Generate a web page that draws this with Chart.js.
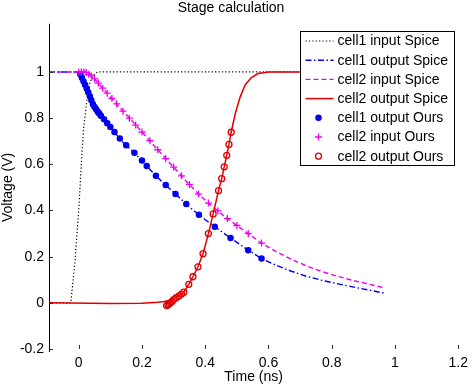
<!DOCTYPE html>
<html>
<head>
<meta charset="utf-8">
<script src="https://cdn.jsdelivr.net/npm/chart.js@4.4.1/dist/chart.umd.min.js"></script>
<style>
  html, body { margin: 0; padding: 0; background: #fff; }
  canvas { display: block; }
</style>
</head>
<body>
<canvas id="stageChart" width="474" height="388"></canvas>
<script>
// time (ns) / voltage (V)
const cell1InT = [-0.094, -0.025, -0.0125, 0, 0.008, 0.015, 0.025, 0.035, 0.045, 0.06, 0.965];
const cell1InV = [0, 0, 0.17, 0.40, 0.60, 0.75, 0.87, 0.95, 0.985, 1.0, 1.0];

const cell1OutT = [-0.094, 0, 0.008, 0.015, 0.022, 0.029, 0.037, 0.045, 0.06, 0.076, 0.095, 0.113, 0.14, 0.176, 0.21, 0.244,
    0.275, 0.306, 0.35, 0.40, 0.45, 0.50, 0.536, 0.578, 0.62, 0.67, 0.72, 0.77, 0.82, 0.87, 0.92, 0.965];
const cell1OutV = [1.0, 1.0, 0.985, 0.96, 0.935, 0.915, 0.885, 0.858, 0.825, 0.80, 0.77, 0.739, 0.695, 0.65, 0.60, 0.55,
    0.51, 0.471, 0.415, 0.36, 0.31, 0.262, 0.228, 0.192, 0.165, 0.138, 0.115, 0.097, 0.082, 0.068, 0.055, 0.042];

const cell2InT = [-0.094, 0, 0.02, 0.035, 0.05, 0.076, 0.095, 0.113, 0.14, 0.17, 0.21, 0.244, 0.275, 0.306, 0.34, 0.379,
    0.42, 0.46, 0.50, 0.536, 0.578, 0.62, 0.67, 0.72, 0.77, 0.82, 0.87, 0.92, 0.962];
const cell2InV = [1.0, 1.0, 1.003, 0.993, 0.97, 0.93, 0.90, 0.872, 0.83, 0.786, 0.725, 0.672, 0.625, 0.579, 0.527, 0.471,
    0.42, 0.375, 0.335, 0.30, 0.259, 0.225, 0.19, 0.16, 0.135, 0.114, 0.096, 0.08, 0.066];

const cell2OutT = [-0.094, 0.1, 0.2, 0.25, 0.27, 0.285, 0.30, 0.317, 0.332, 0.348, 0.361, 0.377, 0.393, 0.41, 0.425,
    0.442, 0.452, 0.46, 0.468, 0.475, 0.482, 0.495, 0.51, 0.526, 0.545, 0.567, 0.6, 0.965];
const cell2OutV = [0, -0.003, -0.002, 0.002, 0.006, 0.01, 0.018, 0.03, 0.046, 0.08, 0.113, 0.156, 0.213, 0.30, 0.385,
    0.486, 0.538, 0.589, 0.639, 0.686, 0.739, 0.82, 0.89, 0.944, 0.975, 0.993, 1.0, 1.0];

// "Ours" samples
const ours1OutT = [0.005, 0.01, 0.015, 0.02, 0.025, 0.03, 0.035, 0.04, 0.045, 0.05, 0.055, 0.06, 0.065, 0.07, 0.08, 0.09,
    0.1, 0.113, 0.13, 0.15, 0.176, 0.2, 0.215, 0.244, 0.275, 0.306, 0.34, 0.38, 0.43, 0.48, 0.536, 0.578];
const ours1OutV = [0.99, 0.975, 0.96, 0.945, 0.928, 0.912, 0.895, 0.878, 0.86, 0.848, 0.838, 0.828, 0.82, 0.81, 0.795, 0.778,
    0.762, 0.74, 0.712, 0.683, 0.65, 0.617, 0.593, 0.55, 0.51, 0.471, 0.428, 0.382, 0.33, 0.281, 0.228, 0.192];

const ours2InT = [0.0, 0.008, 0.016, 0.024, 0.032, 0.04, 0.05, 0.062, 0.076, 0.09, 0.105, 0.12, 0.14, 0.16, 0.18, 0.2,
    0.225, 0.25, 0.275, 0.3, 0.325, 0.35, 0.379, 0.41, 0.44, 0.47, 0.5, 0.536, 0.578];
const ours2InV = [1.0, 1.0, 1.0, 0.998, 0.99, 0.983, 0.97, 0.952, 0.93, 0.908, 0.885, 0.862, 0.83, 0.80, 0.77, 0.74,
    0.702, 0.663, 0.625, 0.588, 0.55, 0.513, 0.471, 0.432, 0.398, 0.365, 0.335, 0.30, 0.259];

const ours2OutT = [0.278, 0.282, 0.286, 0.29, 0.295, 0.30, 0.308, 0.317, 0.325, 0.332, 0.348, 0.361, 0.377, 0.393, 0.41,
    0.425, 0.442, 0.452, 0.46, 0.468, 0.475, 0.482];
const ours2OutV = [-0.012, -0.008, -0.004, 0.0, 0.006, 0.014, 0.022, 0.03, 0.038, 0.046, 0.08, 0.113, 0.156, 0.213, 0.30,
    0.385, 0.486, 0.538, 0.589, 0.639, 0.686, 0.739];

const legendLabels = ['cell1 input Spice', 'cell1 output Spice', 'cell2 input Spice', 'cell2 output Spice',
    'cell1 output Ours', 'cell2 input Ours', 'cell2 output Ours'];

const BLUE = '#0000ee', MAGENTA = '#ee00ee', RED = '#e00000';
const FONT = '"Liberation Sans", Arial, Helvetica, sans-serif';

const pts = (ts, vs) => ts.map((t, i) => ({ x: t, y: vs[i] }));

function lineSet(label, ts, vs, color, dash, width) {
    return {
        label, data: pts(ts, vs), showLine: true, borderColor: color, borderWidth: width,
        borderDash: dash, pointRadius: 0, pointHoverRadius: 0, fill: false, tension: 0
    };
}

function markSet(label, ts, vs, color, style, radius, filled) {
    return {
        label, data: pts(ts, vs), showLine: false, pointStyle: style, pointRadius: radius,
        pointBorderColor: color, pointBackgroundColor: filled ? color : 'rgba(0,0,0,0)',
        pointBorderWidth: 1.3, borderColor: color, backgroundColor: filled ? color : 'rgba(0,0,0,0)'
    };
}

const datasets = [
    lineSet(legendLabels[0], cell1InT, cell1InV, '#000', [1.2, 2.2], 1.2),
    lineSet(legendLabels[1], cell1OutT, cell1OutV, BLUE, [6, 2.5, 1.5, 2.5], 1.4),
    lineSet(legendLabels[2], cell2InT, cell2InV, MAGENTA, [5, 3], 1.4),
    lineSet(legendLabels[3], cell2OutT, cell2OutV, RED, [], 1.5),
    markSet(legendLabels[4], ours1OutT, ours1OutV, BLUE, 'circle', 2.6, true),
    markSet(legendLabels[5], ours2InT, ours2InV, MAGENTA, 'cross', 3.5, false),
    markSet(legendLabels[6], ours2OutT, ours2OutV, RED, 'circle', 3, false)
];
// later series painted on top, as in the original plot
datasets.forEach((d, i) => { d.order = datasets.length - i; });

// left axis line (a bit longer than the plot box) and small inward tick marks
const innerTicks = {
    id: 'innerTicks',
    afterDatasetsDraw(chart) {
        const { ctx, chartArea: a, scales: { x, y } } = chart;
        ctx.save();
        ctx.strokeStyle = '#000';
        ctx.lineWidth = 1;
        ctx.beginPath();
        ctx.moveTo(a.left + 0.5, a.top - 2);
        ctx.lineTo(a.left + 0.5, a.bottom + 3);
        ctx.stroke();
        ctx.strokeStyle = '#333';
        ctx.beginPath();
        x.ticks.forEach(t => {
            const px = Math.round(x.getPixelForValue(t.value)) + 0.5;
            ctx.moveTo(px, a.bottom);
            ctx.lineTo(px, a.bottom - 4);
        });
        y.ticks.forEach(t => {
            if (t.value > 1.1) return;
            const py = Math.round(y.getPixelForValue(t.value)) + 0.5;
            ctx.moveTo(a.left, py);
            ctx.lineTo(a.left + 4, py);
        });
        ctx.stroke();
        ctx.restore();
    }
};

// boxed legend inside the axes, like matlab
const boxLegend = {
    id: 'boxLegend',
    afterDraw(chart) {
        const ctx = chart.ctx;
        const left = 300.5, top = 31.5, w = 154, h = 134, rowH = 19.2;
        ctx.save();
        ctx.fillStyle = '#fff';
        ctx.fillRect(left, top, w, h);
        ctx.strokeStyle = '#000';
        ctx.lineWidth = 1;
        ctx.strokeRect(left, top, w, h);
        ctx.font = '14px ' + FONT;
        ctx.textBaseline = 'middle';
        chart.data.datasets.forEach((d, i) => {
            const cy = top + 9.5 + i * rowH;
            if (d.showLine) {
                ctx.strokeStyle = d.borderColor;
                ctx.lineWidth = d.borderWidth;
                ctx.setLineDash(d.borderDash);
                ctx.beginPath();
                ctx.moveTo(left + 5, cy);
                ctx.lineTo(left + 33, cy);
                ctx.stroke();
                ctx.setLineDash([]);
            } else {
                ctx.strokeStyle = d.pointBorderColor;
                ctx.fillStyle = d.pointBackgroundColor;
                ctx.lineWidth = d.pointBorderWidth;
                Chart.helpers.drawPoint(ctx, { pointStyle: d.pointStyle, radius: d.pointRadius, borderWidth: d.pointBorderWidth, rotation: 0 }, left + 18, cy);
            }
            ctx.fillStyle = '#000';
            ctx.fillText(d.label, left + 37, cy + 0.5);
        });
        ctx.restore();
    }
};

const fmt = v => (Math.abs(v - 1.2) < 1e-6 ? '' : String(+v.toFixed(1)));

new Chart(document.getElementById('stageChart'), {
    type: 'scatter',
    data: { datasets },
    options: {
        responsive: false,
        animation: false,
        devicePixelRatio: 1,
        layout: { padding: { left: 0, right: 12, top: 0, bottom: 0 } },
        plugins: {
            legend: { display: false },
            tooltip: { enabled: false },
            title: {
                display: true, text: 'Stage calculation', color: '#000',
                font: { family: FONT, size: 14, weight: 'normal' },
                padding: { top: 0, bottom: 9 }
            }
        },
        scales: {
            x: {
                type: 'linear', min: -0.094, max: 1.2,
                grid: { display: false, drawTicks: false },
                border: { display: false },
                ticks: {
                    stepSize: 0.2, includeBounds: false, padding: 6, color: '#000',
                    font: { family: FONT, size: 14 },
                    callback: v => String(+v.toFixed(1))
                },
                title: {
                    display: true, text: 'Time (ns)', color: '#000',
                    font: { family: FONT, size: 14 }, padding: { top: 0, bottom: 2 }
                },
                afterFit: s => { s.height = 39; }
            },
            y: {
                type: 'linear', min: -0.2, max: 1.2,
                grid: { display: false, drawTicks: false },
                border: { display: false },
                ticks: {
                    stepSize: 0.2, padding: 5, color: '#000',
                    font: { family: FONT, size: 14 },
                    callback: fmt
                },
                title: {
                    display: true, text: 'Voltage (V)', color: '#000',
                    font: { family: FONT, size: 14 }, padding: { top: 0, bottom: 0 }
                },
                afterFit: s => { s.width = 49; }
            }
        }
    },
    plugins: [innerTicks, boxLegend]
});
</script>
</body>
</html>
